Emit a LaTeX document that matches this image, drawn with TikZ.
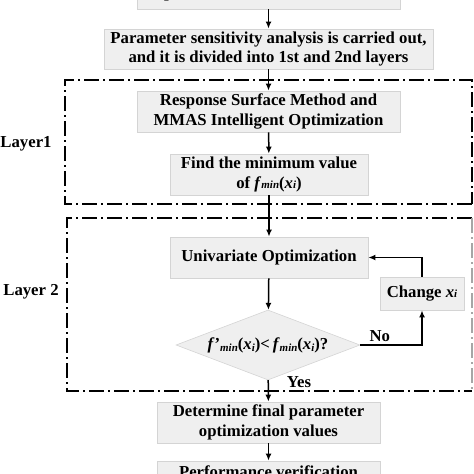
\documentclass[tikz,border=0pt]{standalone}
\usepackage{fontspec}
\setmainfont{Liberation Serif}
\usetikzlibrary{arrows.meta,shapes.geometric}
\definecolor{boxfill}{HTML}{EFEFEF}
\definecolor{boxline}{HTML}{D4D4D4}
\newcommand{\subsc}[1]{{\fontsize{11}{11}\selectfont\textit{#1}}}
\newcommand{\lowsc}[1]{{\fontsize{11}{11}\selectfont\raisebox{-2.5bp}{\textit{#1}}}}
\begin{document}
\begin{tikzpicture}[x=1bp,y=-1bp,
  every node/.style={font=\bfseries\fontsize{16.8}{20}\selectfont, inner sep=0pt, align=center},
  procbox/.style={draw=boxline, fill=boxfill, line width=0.8bp},
  decis/.style={diamond, aspect=2.6, draw=boxline, fill=boxfill, line width=0.6bp},
  conn/.style={line width=1.5bp, -{Latex[length=7bp,width=6bp]}},
  layerframe/.style={line width=2bp, dash pattern=on 15bp off 4bp on 2bp off 4bp},
  lbl/.style={font=\bfseries\fontsize{16.8}{18}\selectfont}
]
\useasboundingbox (0,0) rectangle (474,474);

% layer frames
\draw[layerframe] (472,204) -- (65,204) -- (65,80) -- (472,80) -- cycle;
\draw[layerframe] (472,218) -- (67,218) -- (67,391) -- (472,391);
\draw[layerframe, draw=gray!70] (472,218) -- (472,391);

% boxes
\node[procbox, minimum width=263bp, minimum height=40bp] (b1) at (268.5,-11) {\\optimization model, constraints};
\node[procbox, minimum width=329bp, minimum height=40bp] (b2) at (268.5,49) {Parameter sensitivity analysis is carried out,\\and it is divided into 1st and 2nd layers};
\node[procbox, minimum width=263bp, minimum height=41bp] (b3) at (268.5,111.5) {Response Surface Method and\\MMAS Intelligent Optimization};
\node[procbox, minimum width=198bp, minimum height=41bp] (b4) at (269,174.5) {Find the minimum value\\of \textit{f}\subsc{min}(\textit{x}\subsc{i})};
\node[procbox, minimum width=198bp, minimum height=41bp] (b5) at (269,257.5) {Univariate Optimization};
\node[decis, minimum width=184bp, minimum height=70bp] (d) at (268,345) {\textit{f}'\lowsc{min}(\textit{x}\lowsc{i})<\,\textit{f}\lowsc{min}(\textit{x}\lowsc{i})?};
\node[procbox, minimum width=84bp, minimum height=33bp] (ch) at (422,293.5) {Change \textit{x}\subsc{i}};
\node[procbox, minimum width=223bp, minimum height=41bp] (b6) at (268.5,422.5) {Determine final parameter\\optimization values};
\node[procbox, minimum width=223bp, minimum height=41bp] (b7) at (268.5,481.5) {Performance verification\\};

% labels
\node[lbl] (l1) at (26,144) {Layer1};
\node[lbl] (l2) at (31,292) {Layer 2};
\node[lbl, anchor=south west] (no) at ([shift={(9bp,3bp)}]d.east) {No};
\node[lbl] (yes) at (299,382) {Yes};

% connectors
\draw[conn] (b1) -- (b2);
\draw[conn] (b2) -- (b3);
\draw[conn] (b3) -- (b4);
\draw[conn] (b4) -- (b5);
\draw[conn] (b5) -- (d);
\draw[conn] (d) -- (b6);
\draw[conn] (b6) -- (b7);
\draw[conn] (d.east) -| (ch.south);
\draw[conn] (ch.north) |- (b5.east);
\end{tikzpicture}
\end{document}
